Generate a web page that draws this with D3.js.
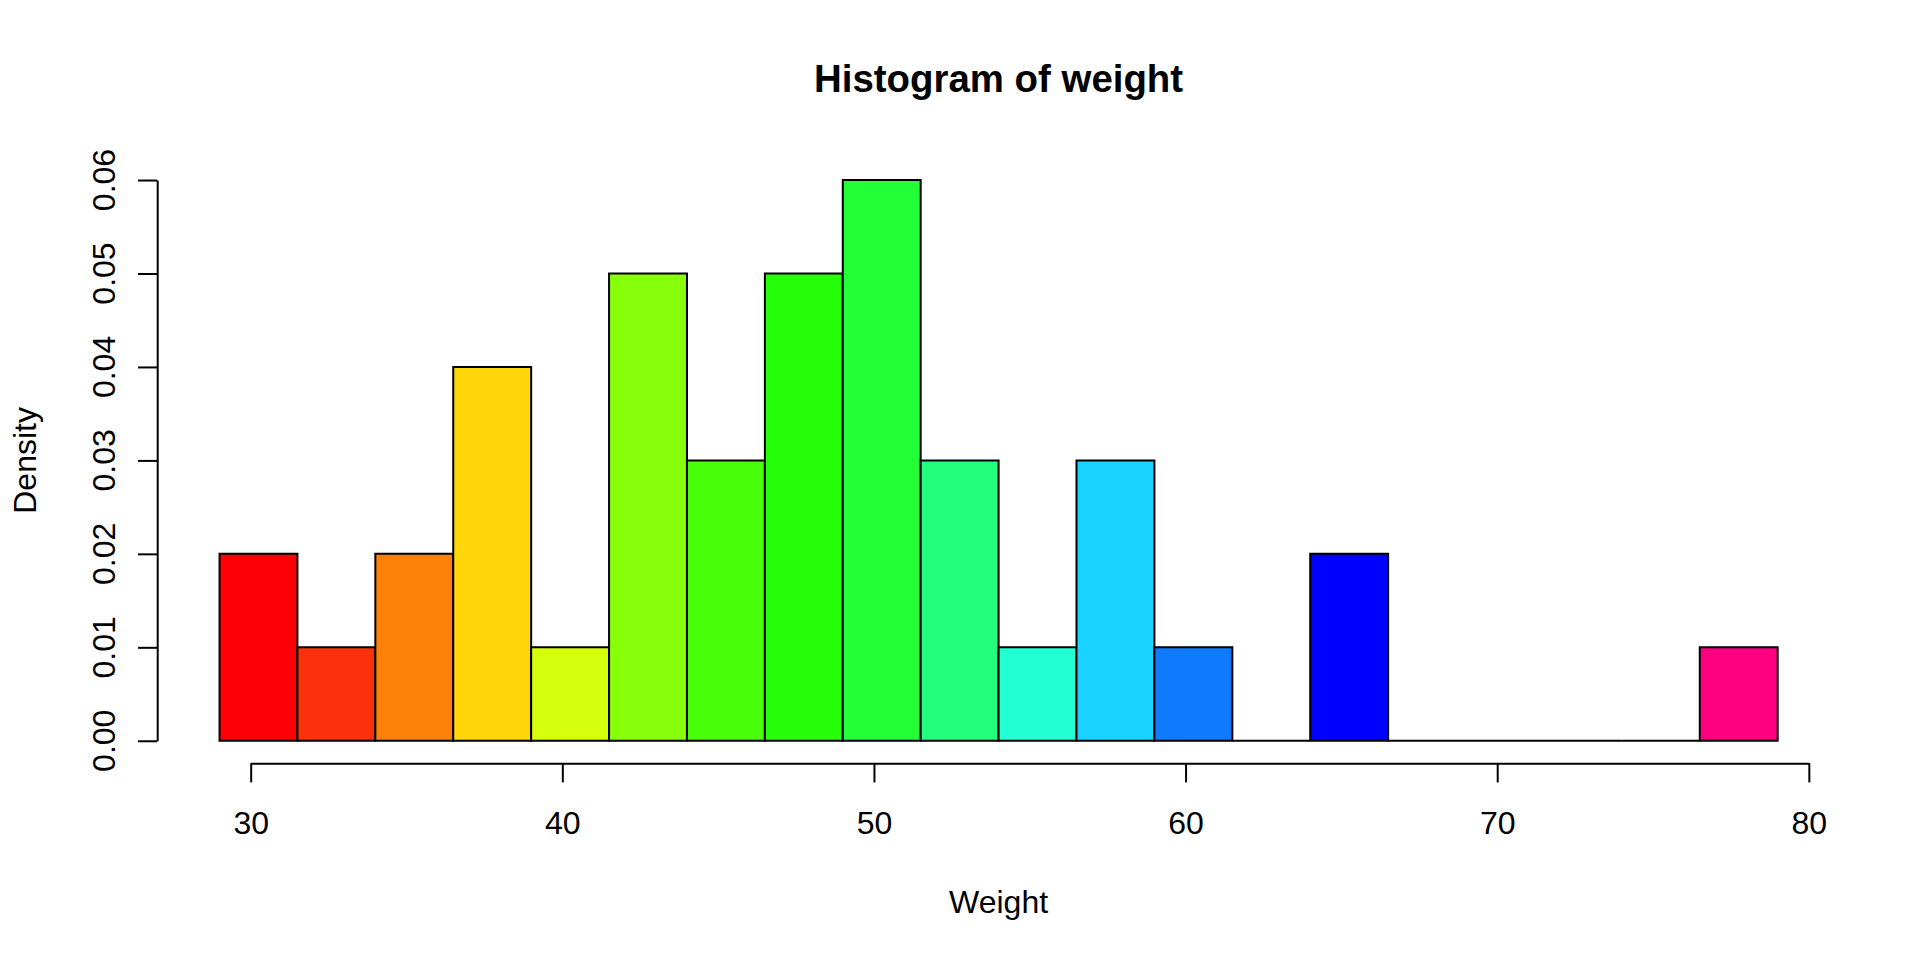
<!DOCTYPE html>
<html>
<head>
<meta charset="utf-8">
<script src="https://cdn.jsdelivr.net/npm/d3@7"></script>
<style>
  html, body { margin: 0; padding: 0; background: #ffffff; }
  svg { display: block; }
  text { font-family: "Liberation Sans", Arial, Helvetica, sans-serif; fill: #000; }
</style>
</head>
<body>
<svg id="chart" width="1920" height="960"></svg>
<script>
// ---- data ----
const binStarts = [29, 31.5, 34, 36.5, 39, 41.5, 44, 46.5, 49, 51.5, 54, 56.5, 59, 61.5, 64, 66.5, 69, 71.5, 74, 76.5];
const binEnds   = [31.5, 34, 36.5, 39, 41.5, 44, 46.5, 49, 51.5, 54, 56.5, 59, 61.5, 64, 66.5, 69, 71.5, 74, 76.5, 79];
const density   = [0.02, 0.01, 0.02, 0.04, 0.01, 0.05, 0.03, 0.05, 0.06, 0.03, 0.01, 0.03, 0.01, 0.00, 0.02, 0.00, 0.00, 0.00, 0.00, 0.01];
const barColors = ["#FC0006", "#FC300A", "#FD800A", "#FFD60A", "#D5FF0A", "#88FF0A", "#48FF0A", "#26FF0A",
                   "#22FF36", "#22FF7D", "#22FFD2", "#1AD4FF", "#117BFF", "#0A22FF", "#0000FF", "#4A00FF",
                   "#9000FF", "#D800FF", "#FF00C8", "#FF0080"];
const xTicks = [30, 40, 50, 60, 70, 80];
const xTickLabels = ["30", "40", "50", "60", "70", "80"];
const yTicks = [0, 0.01, 0.02, 0.03, 0.04, 0.05, 0.06];
const yTickLabels = ["0.00", "0.01", "0.02", "0.03", "0.04", "0.05", "0.06"];
const titleText = "Histogram of weight";
const xTitle = "Weight";
const yTitle = "Density";

// ---- layout ----
const plotLeft = 157.2, plotRight = 1840, plotTop = 157.6, plotBottom = 763.2;
const svg = d3.select("#chart");

const x = d3.scaleLinear().domain([27, 81]).range([plotLeft, plotRight]);
const y = d3.scaleLinear().domain([-0.0024, 0.0624]).range([plotBottom, plotTop]);

// bars (paths so zero-height bins still draw their outline)
const bins = binStarts.map((s, i) => ({ x0: s, x1: binEnds[i], d: density[i], c: barColors[i] }));
svg.append("g").selectAll("path").data(bins).join("path")
  .attr("d", b => `M${x(b.x0)},${y(0)}V${y(b.d)}H${x(b.x1)}V${y(0)}Z`)
  .attr("fill", b => b.c)
  .attr("stroke", "#000")
  .attr("stroke-width", 2)
  .attr("stroke-linejoin", "miter");

// x axis
const xAxisScale = d3.scaleLinear().domain([xTicks[0], xTicks[xTicks.length - 1]])
  .range([x(xTicks[0]), x(xTicks[xTicks.length - 1])]);
const gx = svg.append("g").attr("transform", `translate(0,${plotBottom})`)
  .call(d3.axisBottom(xAxisScale).tickValues(xTicks).tickSizeInner(19.2).tickSizeOuter(0)
    .tickFormat((d, i) => xTickLabels[i]));
gx.select(".domain").attr("stroke", "#000").attr("stroke-width", 2);
gx.selectAll(".tick line").attr("stroke", "#000").attr("stroke-width", 2);
gx.selectAll(".tick text").attr("y", 71.2).attr("dy", 0)
  .style("font-family", '"Liberation Sans", Arial, sans-serif').style("font-size", "32px").attr("fill", "#000");

// y axis
const yAxisScale = d3.scaleLinear().domain([yTicks[0], yTicks[yTicks.length - 1]])
  .range([y(yTicks[0]), y(yTicks[yTicks.length - 1])]);
const gy = svg.append("g").attr("transform", `translate(${plotLeft},0)`)
  .call(d3.axisLeft(yAxisScale).tickValues(yTicks).tickSizeInner(19.2).tickSizeOuter(0).tickFormat(""));
gy.select(".domain").attr("stroke", "#000").attr("stroke-width", 2);
gy.selectAll(".tick line").attr("stroke", "#000").attr("stroke-width", 2);
gy.selectAll(".tick text").remove();
svg.append("g").selectAll("text").data(yTicks).join("text")
  .attr("transform", d => `translate(115,${y(d)}) rotate(-90)`)
  .attr("text-anchor", "middle")
  .style("font-size", "32px")
  .text((d, i) => yTickLabels[i]);

// titles
svg.append("text").attr("x", (plotLeft + plotRight) / 2).attr("y", 91.5)
  .attr("text-anchor", "middle").style("font-size", "38.4px").style("font-weight", "bold")
  .text(titleText);
svg.append("text").attr("x", (plotLeft + plotRight) / 2).attr("y", 913)
  .attr("text-anchor", "middle").style("font-size", "32px")
  .text(xTitle);
svg.append("text").attr("transform", `translate(36,${(plotTop + plotBottom) / 2}) rotate(-90)`)
  .attr("text-anchor", "middle").style("font-size", "32px")
  .text(yTitle);
</script>
</body>
</html>
